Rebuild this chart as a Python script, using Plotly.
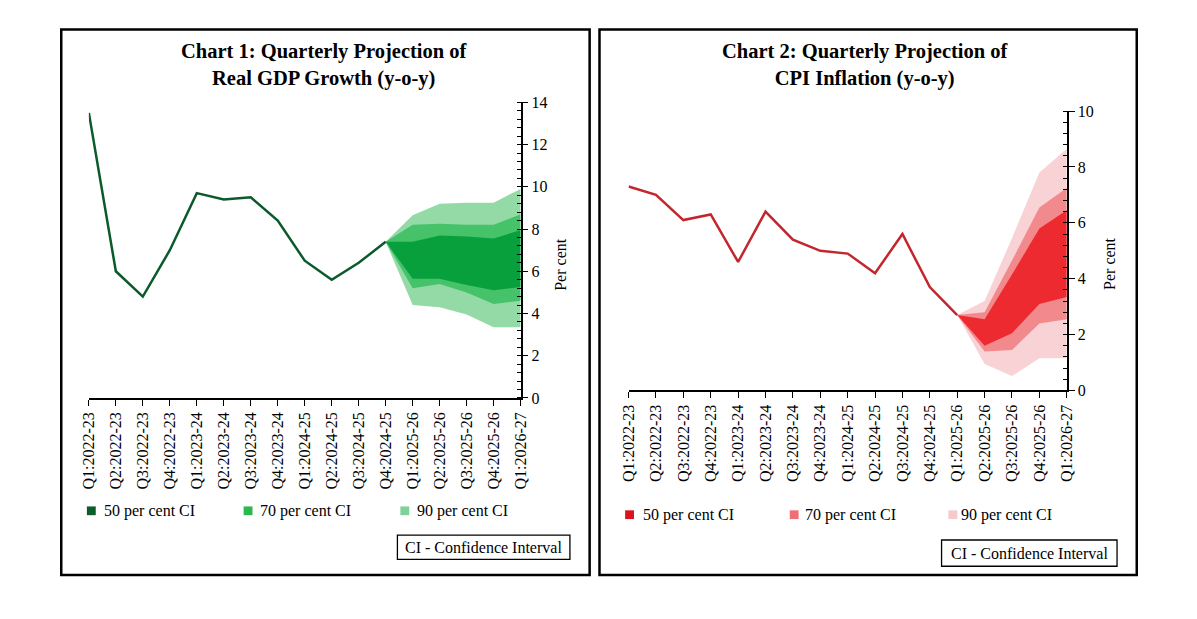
import plotly.graph_objects as go

W, H = 1197, 619

quarters = ["Q1:2022-23", "Q2:2022-23", "Q3:2022-23", "Q4:2022-23",
            "Q1:2023-24", "Q2:2023-24", "Q3:2023-24", "Q4:2023-24",
            "Q1:2024-25", "Q2:2024-25", "Q3:2024-25", "Q4:2024-25",
            "Q1:2025-26", "Q2:2025-26", "Q3:2025-26", "Q4:2025-26",
            "Q1:2026-27"]

# Chart 1: Real GDP growth
gdp_actual_q = quarters[:12]
gdp_actual = [13.5, 6.0, 4.8, 7.0, 9.7, 9.4, 9.5, 8.4, 6.5, 5.6, 6.4, 7.4]
gdp_fan_q = quarters[11:]
gdp_90_up = [7.4, 8.65, 9.2, 9.25, 9.25, 9.9]
gdp_70_up = [7.4, 8.2, 8.25, 8.2, 8.2, 8.7]
gdp_50_up = [7.4, 7.4, 7.7, 7.65, 7.55, 7.95]
gdp_50_lo = [7.4, 5.65, 5.65, 5.35, 5.1, 5.25]
gdp_70_lo = [7.4, 5.2, 5.4, 5.0, 4.45, 4.6]
gdp_90_lo = [7.4, 4.4, 4.3, 3.95, 3.35, 3.35]

# Chart 2: CPI inflation
cpi_actual_q = quarters[:13]
cpi_actual = [7.3, 7.0, 6.1, 6.3, 4.6, 6.4, 5.4, 5.0, 4.9, 4.2, 5.6, 3.7, 2.7]
cpi_fan_q = quarters[12:]
cpi_90_up = [2.7, 3.2, 5.45, 7.8, 8.65]
cpi_70_up = [2.7, 2.8, 4.65, 6.55, 7.25]
cpi_50_up = [2.7, 2.55, 4.15, 5.8, 6.45]
cpi_50_lo = [2.7, 1.6, 2.05, 3.1, 3.35]
cpi_70_lo = [2.7, 1.4, 1.45, 2.4, 2.55]
cpi_90_lo = [2.7, 0.95, 0.52, 1.15, 1.15]

legend_labels = ["50 per cent CI", "70 per cent CI", "90 per cent CI"]

FONT = "Liberation Serif"
green_line = "#0b5a2b"
green_fill = ["#07a03c", "#45c26a", "#93daa6"]
green_leg = ["#0b5e2b", "#2db84d", "#7fd19a"]
red_line = "#c3272d"
red_fill = ["#ee2a31", "#f2898d", "#f8d2d4"]
red_leg = ["#d9141c", "#ef6f74", "#f6c9cc"]


def px(x):
    return x / W


def py(y):
    return 1 - y / H


fig = go.Figure()


def add_band(xq, up, lo, color, xa, ya):
    fig.add_trace(go.Scatter(
        x=list(xq) + list(xq[::-1]), y=list(up) + list(lo[::-1]),
        fill="toself", fillcolor=color, mode="lines",
        line=dict(width=0, color=color), hoverinfo="skip",
        showlegend=False, xaxis=xa, yaxis=ya))


# Chart 1 traces
add_band(gdp_fan_q, gdp_90_up, gdp_90_lo, green_fill[2], "x", "y")
add_band(gdp_fan_q, gdp_70_up, gdp_70_lo, green_fill[1], "x", "y")
add_band(gdp_fan_q, gdp_50_up, gdp_50_lo, green_fill[0], "x", "y")
fig.add_trace(go.Scatter(x=gdp_actual_q, y=gdp_actual, mode="lines",
                         line=dict(color=green_line, width=2.5),
                         showlegend=False, xaxis="x", yaxis="y"))

# Chart 2 traces
add_band(cpi_fan_q, cpi_90_up, cpi_90_lo, red_fill[2], "x2", "y2")
add_band(cpi_fan_q, cpi_70_up, cpi_70_lo, red_fill[1], "x2", "y2")
add_band(cpi_fan_q, cpi_50_up, cpi_50_lo, red_fill[0], "x2", "y2")
fig.add_trace(go.Scatter(x=cpi_actual_q, y=cpi_actual, mode="lines",
                         line=dict(color=red_line, width=2.5),
                         showlegend=False, xaxis="x2", yaxis="y2"))


def xaxis_cfg(x0, x1, anchor):
    return dict(domain=[px(x0), px(x1)], anchor=anchor, type="category",
                categoryorder="array", categoryarray=quarters,
                range=[0, 16], showline=True, linecolor="black", linewidth=1.5,
                ticks="outside", ticklen=6, tickwidth=1.2, tickcolor="black",
                tickangle=-90, tickfont=dict(family=FONT, size=16, color="black"),
                showgrid=False, zeroline=False, fixedrange=True)


def yaxis_cfg(y_top, y_bot, ymax, anchor):
    return dict(domain=[py(y_bot), py(y_top)], anchor=anchor, side="right",
                range=[0, ymax], tick0=0, dtick=2, showline=True,
                linecolor="black", linewidth=1.5, ticks="outside", ticklen=6,
                tickwidth=1.2, tickcolor="black",
                tickfont=dict(family=FONT, size=16, color="black"),
                minor=dict(dtick=0.4, tick0=0, ticks="inside", ticklen=4,
                           tickcolor="black", tickwidth=1, showgrid=False),
                showgrid=False, zeroline=False, fixedrange=True)


shapes = []
annotations = []

# panel borders
for (x0, y0, x1, y1) in [(53, 22, 589, 583), (599, 22, 1144, 583)]:
    shapes.append(dict(type="rect", xref="paper", yref="paper",
                       x0=px(x0), x1=px(x1), y0=py(y1), y1=py(y0),
                       line=dict(color="black", width=2.5),
                       fillcolor="rgba(0,0,0,0)", layer="above"))

# titles
annotations.append(dict(xref="paper", yref="paper", x=px(320), y=py(59),
                        xanchor="center", yanchor="middle", showarrow=False,
                        text="<b>Chart 1: Quarterly Projection of</b><br><b>Real GDP Growth (y-o-y)</b>",
                        font=dict(family=FONT, size=20.5, color="black")))
annotations.append(dict(xref="paper", yref="paper", x=px(869), y=py(59),
                        xanchor="center", yanchor="middle", showarrow=False,
                        text="<b>Chart 2: Quarterly Projection of</b><br><b>CPI Inflation (y-o-y)</b>",
                        font=dict(family=FONT, size=20.5, color="black")))

# Per cent labels
for xc, yc in [(560, 264), (1117, 263)]:
    annotations.append(dict(xref="paper", yref="paper", x=px(xc), y=py(yc),
                            xanchor="center", yanchor="middle", showarrow=False,
                            text="Per cent", textangle=-90,
                            font=dict(family=FONT, size=16, color="black")))

# legends
leg1 = [(79, 94), (238, 253), (397, 412)]
leg2 = [(625, 641), (792, 805), (953, 964)]
for (items, yc, cols) in [(leg1, 517, green_leg), (leg2, 521, red_leg)]:
    for (sx, tx), lab, col in zip(items, legend_labels, cols):
        shapes.append(dict(type="rect", xref="paper", yref="paper",
                           x0=px(sx), x1=px(sx + 9), y0=py(yc + 4.5), y1=py(yc - 4.5),
                           fillcolor=col, line=dict(width=0)))
        annotations.append(dict(xref="paper", yref="paper", x=px(tx), y=py(yc),
                                xanchor="left", yanchor="middle", showarrow=False,
                                text=lab, font=dict(family=FONT, size=16, color="black")))

# CI boxes
for (x0, y0, x1, y1) in [(394, 542, 569, 567), (946, 547, 1124, 574)]:
    shapes.append(dict(type="rect", xref="paper", yref="paper",
                       x0=px(x0), x1=px(x1), y0=py(y1), y1=py(y0),
                       line=dict(color="black", width=1.3),
                       fillcolor="rgba(0,0,0,0)"))
    annotations.append(dict(xref="paper", yref="paper", x=px((x0 + x1) / 2),
                            y=py((y0 + y1) / 2), xanchor="center", yanchor="middle",
                            showarrow=False, text="CI - Confidence Interval",
                            font=dict(family=FONT, size=16, color="black")))

fig.update_layout(
    width=W, height=H, margin=dict(l=0, r=0, t=0, b=0),
    paper_bgcolor="white", plot_bgcolor="white", showlegend=False,
    xaxis=xaxis_cfg(81, 519, "y"),
    yaxis=yaxis_cfg(97, 401, 14, "x"),
    xaxis2=xaxis_cfg(628.5, 1073, "y2"),
    yaxis2=yaxis_cfg(106, 393.3, 10, "x2"),
    shapes=shapes, annotations=annotations,
)

fig.write_html("out.html")
